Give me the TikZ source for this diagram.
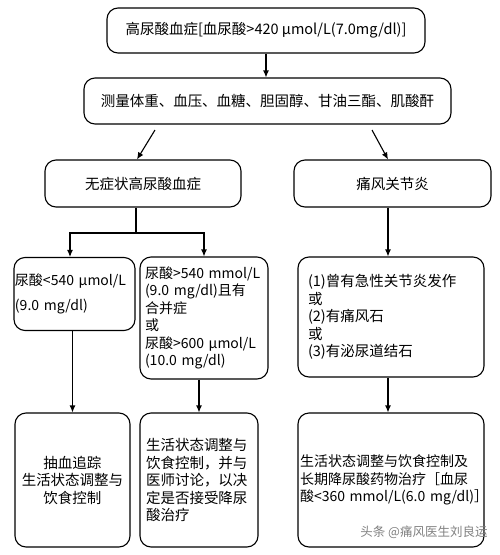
\documentclass[tikz,border=0pt]{standalone}
\usepackage{fontspec}
\setmainfont{Noto Sans CJK SC}
\usepackage{tikz}
\usetikzlibrary{arrows,arrows.meta}
\usetikzlibrary{calc}
\tikzset{
    rbox/.style={draw, rounded corners=11pt, line width=1.1pt, inner sep=0pt, font=\fontsize{14.5}{17.5}\selectfont},
    small/.style={font=\fontsize{14}{17.5}\selectfont},
    arr/.style={-{Latex[length=7pt,width=6pt]}, line width=1.1pt}}
\begin{document}
\begin{tikzpicture}[x=1pt,y=-1pt]
\useasboundingbox (0,0) rectangle (500,555);

%top boxes
\node[rbox, minimum width=318pt, minimum height=45pt] (hyper) at (266,30.5) {高尿酸血症[血尿酸>420 μmol/L(7.0mg/dl)]};
\node[rbox, minimum width=367pt, minimum height=46pt] (check) at (267.5,101) {测量体重、血压、血糖、胆固醇、甘油三酯、肌酸酐};
\draw [arr](hyper.south)--(hyper.south |- check.north);

%second row
\node[rbox, minimum width=196pt, minimum height=47pt] (asym) at (143,183.5) {无症状高尿酸血症};
\node[rbox, minimum width=197pt, minimum height=47pt] (gout) at (392.5,183.5) {痛风关节炎};
\coordinate (l1) at (155,130);
\coordinate (r1) at (372,130);
\draw [arr](l1)--([xshift=-6pt]asym.north);
\draw [arr](r1)--([xshift=-4.5pt]gout.north);

%third row
\node[rbox, small, minimum width=121pt, minimum height=73pt, text width=119pt, align=left] (low) at (74.5,294) {尿酸<540~μmol/L\\[7pt](9.0 mg/dl)};
\node[rbox, small, minimum width=128pt, minimum height=122pt, text width=118pt, align=left] (high) at (204,318) {尿酸>540~mmol/L\\(9.0 mg/dl)且有\\合并症\\或\\尿酸>600~μmol/L\\(10.0 mg/dl)};
\node[rbox, minimum width=186pt, minimum height=120pt, text width=166pt, align=left] (crit) at (391,317) {(1)曾有急性关节炎发作\\或\\(2)有痛风石\\或\\(3)有泌尿道结石};
\coordinate (split) at (136,233);
\draw [line width=1.1pt](split |- asym.south)--(split);
\draw [arr](split)-|([xshift=-4.5pt]low.north);
\draw [arr](split)-|(high.north);
\draw [arr]([xshift=-4.5pt]gout.south)--([xshift=-3pt]crit.north);

%bottom row
\node[rbox, minimum width=115pt, minimum height=134pt, text width=113pt, align=center] (follow) at (72.5,480) {抽血追踪\\生活状态调整与\\饮食控制};
\node[rbox, minimum width=118pt, minimum height=134pt, text width=106pt, align=left] (discuss) at (199,480) {生活状态调整与\\饮食控制，并与\\医师讨论，以决\\定是否接受降尿\\酸治疗};
\node[rbox, small, minimum width=186pt, minimum height=134pt, text width=182pt, align=left] (treat) at (391,480) {生活状态调整与饮食控制及\\长期降尿酸药物治疗［血尿\\酸<360~mmol/L(6.0~mg/dl)］};
\draw [arr](follow.north |- low.south)--(follow.north);
\draw [arr](discuss.north |- high.south)--(discuss.north);
\draw [arr]([xshift=-3pt]crit.south)--([xshift=-3pt]treat.north);

\node[text=gray, font=\fontsize{12.5}{14}\selectfont] (credit) at (424,532) {头条 @痛风医生刘良运};
\end{tikzpicture}
\end{document}
